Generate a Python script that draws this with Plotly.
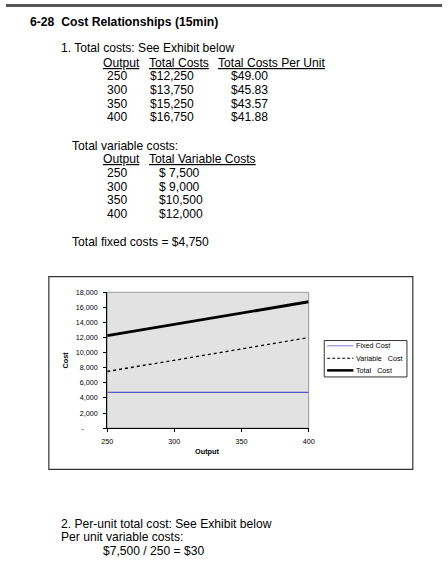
import plotly.graph_objects as go

output = [250, 300, 350, 400]
total_costs = [12250, 13750, 15250, 16750]
total_cost_per_unit = [49.00, 45.83, 43.57, 41.88]
variable_costs = [7500, 9000, 10500, 12000]
fixed_cost = 4750
fixed_costs = [fixed_cost for _ in output]
y_ticks = [0, 2000, 4000, 6000, 8000, 10000, 12000, 14000, 16000, 18000]

W, H = 448, 564
FONT = "Liberation Sans, Arial, sans-serif"


def px(x, y):
    return x / W, 1 - y / H


def txt(x, y, text, size=12.1, bold=False, anchor="left"):
    xx, yy = px(x, y)
    if bold:
        text = "<b>" + text + "</b>"
    return dict(x=xx, y=yy, xref="paper", yref="paper", text=text, showarrow=False,
                xanchor=anchor, yanchor="middle", borderpad=0,
                font=dict(family=FONT, size=size, color="black"))


def money(v):
    s = f"${v:,}"
    return s if v >= 10000 else "$ " + s[1:]


fig = go.Figure()

fig.add_trace(go.Scatter(x=output, y=fixed_costs, mode="lines", name="Fixed Cost",
                         line=dict(color="#5656c8", width=1.3), showlegend=False))
fig.add_trace(go.Scatter(x=output, y=variable_costs, mode="lines", name="Variable Cost",
                         line=dict(color="black", width=1.4, dash="3px,3px"), showlegend=False))
fig.add_trace(go.Scatter(x=output, y=total_costs, mode="lines", name="Total Cost",
                         line=dict(color="black", width=2.8), showlegend=False))

ann = []
ann.append(txt(24, 18, "6-28  Cost Relationships (15min)", size=12.2, bold=True))
ann.append(txt(55, 45, "1. Total costs: See Exhibit below"))

# first table
ann.append(txt(99, 60, "<u>Output</u>"))
ann.append(txt(146, 60, "<u>Total Costs</u>"))
ann.append(txt(217, 60, "<u>Total Costs Per Unit</u>"))
for i, (o, t, p) in enumerate(zip(output, total_costs, total_cost_per_unit)):
    y = 73.3 + 14 * i
    ann.append(txt(102.7, y, str(o)))
    ann.append(txt(146.7, y, f"${t:,}"))
    ann.append(txt(230, y, f"${p:.2f}"))

ann.append(txt(66.7, 144, "Total variable costs:"))
ann.append(txt(99, 157.3, "<u>Output</u>"))
ann.append(txt(146, 157.3, "<u>Total Variable Costs</u>"))
for i, (o, v) in enumerate(zip(output, variable_costs)):
    y = 171.7 + 13.9 * i
    ann.append(txt(102.7, y, str(o)))
    ann.append(txt(156, y, money(v)))

ann.append(txt(66.7, 241.7, f"Total fixed costs = ${fixed_cost:,}"))

# chart axis titles
ann.append(dict(x=px(61, 0)[0], y=px(0, 362)[1], xref="paper", yref="paper", text="<b>Cost</b>",
                showarrow=False, textangle=-90, xanchor="center", yanchor="middle",
                font=dict(family=FONT, size=7.3, color="black")))
ann.append(txt(207, 455, "Output", size=7.3, bold=True, anchor="center"))

# legend
leg_items = [("Fixed Cost", 347.3), ("Variable\u00a0\u00a0\u00a0Cost", 360), ("Total\u00a0\u00a0\u00a0Cost", 372.3)]
for label, y in leg_items:
    ann.append(txt(359, y, label, size=7.2))

# bottom text
ann.append(txt(55, 528, "2. Per-unit total cost: See Exhibit below"))
ann.append(txt(55, 542, "Per unit variable costs:"))
ann.append(txt(99, 556, f"${variable_costs[0]:,} / {output[0]} = ${variable_costs[0] // output[0]}"))

shapes = []
# top dark band
x0, y0 = px(0, 0)
x1, y1 = px(W, 3)
shapes.append(dict(type="rect", xref="paper", yref="paper", x0=x0, y0=y0, x1=x1, y1=y1,
                   fillcolor="#555555", line=dict(width=0)))
# chart frame
x0, y0 = px(44, 277)
x1, y1 = px(418, 473)
shapes.append(dict(type="rect", xref="paper", yref="paper", x0=x0, y0=y0, x1=x1, y1=y1,
                   line=dict(color="#333333", width=1.2)))
# plot area border (top/right gray)
shapes.append(dict(type="rect", xref="x domain", yref="y domain", x0=0, y0=0, x1=1, y1=1,
                   line=dict(color="#9a9a9a", width=1), layer="below"))
# legend box and samples
x0, y0 = px(327, 342)
x1, y1 = px(412, 379)
shapes.append(dict(type="rect", xref="paper", yref="paper", x0=x0, y0=y0, x1=x1, y1=y1,
                   line=dict(color="#333333", width=1), fillcolor="white"))
samples = [dict(color="#9a9ae0", width=1.3), dict(color="black", width=1.2, dash="3px,2px"),
           dict(color="black", width=2.5)]
for (label, y), ln in zip(leg_items, samples):
    a, b = px(330, y)
    c, _ = px(357, y)
    shapes.append(dict(type="line", xref="paper", yref="paper", x0=a, y0=b, x1=c, y1=b, line=ln))

dx0, _ = px(104, 0)
dx1, _ = px(311, 0)
_, dy0 = px(0, 431)
_, dy1 = px(0, 293)

fig.update_layout(
    width=W, height=H, autosize=False,
    margin=dict(l=0, r=0, t=0, b=0),
    paper_bgcolor="white", plot_bgcolor="#e2e2e2",
    font=dict(family=FONT, size=7.2, color="black"),
    showlegend=False,
    annotations=ann, shapes=shapes,
    xaxis=dict(domain=[dx0, dx1], range=[250, 400], tickvals=output, showgrid=False,
               zeroline=False, showline=True, linecolor="black", linewidth=1,
               ticks="outside", ticklen=3, tickcolor="black", tickfont=dict(size=7.2),
               ticklabelstandoff=3),
    yaxis=dict(domain=[dy0, dy1], range=[0, 18000], tickvals=y_ticks,
               ticktext=["-" + "\u00a0" * 7 if v == 0 else f"{v:,}" for v in y_ticks],
               showgrid=False, zeroline=False, showline=True, linecolor="black", linewidth=1,
               ticks="outside", ticklen=3, tickcolor="black", tickfont=dict(size=7.2),
               ticklabelstandoff=4),
)

# the page body has a default 8px margin; drop it so the figure fills the window
fig.write_html("out.html", config={"displayModeBar": False},
               post_script="document.body.style.margin='0px';")
